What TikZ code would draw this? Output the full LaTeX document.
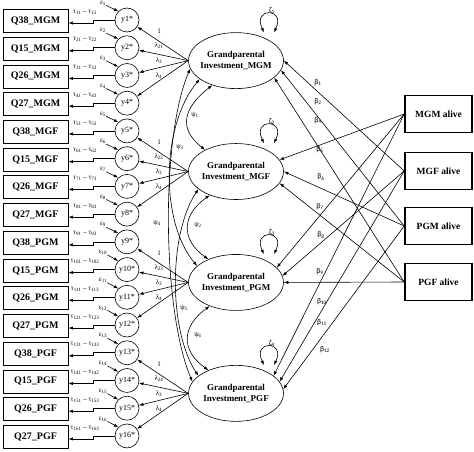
\documentclass[tikz,border=0pt]{standalone}
\usepackage{fontspec}
\setmainfont{Liberation Serif}
\newfontfamily\calfont{Carlito}
\usetikzlibrary{arrows.meta}
\usetikzlibrary{shapes.geometric}

\tikzset{
	obsbox/.style={draw, line width=0.8pt, minimum width=65pt, minimum height=23pt, inner sep=0pt, font=\fontsize{10}{12}\selectfont\bfseries},
	alivebox/.style={draw, line width=1.6pt, minimum width=67pt, minimum height=37pt, inner sep=0pt, font=\fontsize{9.5}{11}\selectfont\bfseries},
	ystar/.style={draw, circle, line width=0.6pt, minimum size=24pt, inner sep=0pt, font=\fontsize{8}{9}\selectfont},
	latent/.style={draw, ellipse, line width=0.6pt, minimum width=95pt, minimum height=56pt, inner xsep=-4pt, inner ysep=0pt, align=center, font=\fontsize{9}{11}\selectfont\bfseries},
	lbl/.style={font=\fontsize{7}{8}\selectfont, inner sep=0pt},
	blbl/.style={font=\calfont\fontsize{7.5}{8}\selectfont, inner sep=0pt},
	arr/.style={-{Latex[length=4.5pt,width=3.2pt]}, line width=0.6pt},
	darr/.style={{Latex[length=4.5pt,width=3.2pt]}-{Latex[length=4.5pt,width=3.2pt]}, line width=0.6pt}
}

\begin{document}
\begin{tikzpicture}[x=1pt, y=-1pt]
	\useasboundingbox (0,0) rectangle (474,452);
	
	% latent factors with their indicators
	\foreach \g [count=\b from 0] in {MGM,MGF,PGM,PGF}{
		\pgfmathsetmacro\ly{60.6+110.92*\b}
		\pgfmathtruncatemacro\zn{\b+1}
		\node[latent] (lat\g) at (236,\ly) {Grandparental\\Investment\_\g};
		\draw[darr] ([xshift=28pt]lat\g.north) .. controls +(-12,-25) and +(12,-25) .. ([xshift=38pt]lat\g.north);
		\node[blbl] (z\g) at (272,\ly-50) {ζ\textsubscript{\zn}};
		\foreach \q/\lt/\lo [count=\k from 0] in {38/1/-29, 15/{λ\textsubscript{2\zn}}/-15, 26/{λ\textsubscript{3}}/0, 27/{λ\textsubscript{4}}/15}{
			\pgfmathtruncatemacro\i{4*\b+\k+1}
			\pgfmathtruncatemacro\tl{\k==1 ? 2 : 3}
			\pgfmathsetmacro\qy{21+27.73*(\i-1)}
			\pgfmathsetmacro\lay{\ly+\lo}
			\node[obsbox] (q\i) at (35.5,\qy) {Q\q\_\g};
			\node[ystar] (y\i) at (127,\qy-1) {y\i*};
			\node[lbl] (t\i) at (85,\qy-9) {τ\textsubscript{\i1} – τ\textsubscript{\i\tl}};
			\node[lbl] (e\i) at (103,\qy-18) {ε\textsubscript{\i}};
			\draw[arr] (e\i.south east) -- (y\i.135);
			\draw[arr] (y\i.west) -- ++(-21,0) |- ([yshift=-2pt]q\i.east);
			\draw[arr] (lat\g.west) -- (y\i);
			\node[lbl] (l\i) at (159,\lay) {\lt};
		}
	}
	
	% covariances
	\draw[darr] (latMGM.226) .. controls +(-28,22) and +(-28,-22) .. (latMGF.145);
	\draw[darr] (latMGF.222) .. controls +(-28,20) and +(-28,-20) .. (latPGM.140);
	\draw[darr] (latPGM.222) .. controls +(-28,20) and +(-28,-20) .. (latPGF.140);
	\draw[darr] (latMGM.207) .. controls +(-38,45) and +(-38,-45) .. (latPGM.157);
	\draw[darr] (latMGF.205) .. controls +(-30,45) and +(-30,-45) .. (latPGF.155);
	\draw[darr] (latMGM.190) .. controls +(-30,70) and +(-30,-70) .. (latPGF.165);
	\node[lbl] (p1) at (195,115) {ψ\textsubscript{1}};
	\node[lbl] (p2) at (198,225) {ψ\textsubscript{2}};
	\node[lbl] (p3) at (180,147) {ψ\textsubscript{3}};
	\node[lbl] (p4) at (157,223) {ψ\textsubscript{4}};
	\node[lbl] (p5) at (184,308) {ψ\textsubscript{5}};
	\node[lbl] (p6) at (198,335) {ψ\textsubscript{6}};
	
	% alive boxes and regressions
	\foreach \g/\ay in {MGM/114,MGF/171,PGM/226,PGF/282}
		\node[alivebox] (a\g) at (438.5,\ay) {\g{} alive};
	\foreach \s/\t/\an in {MGF/MGM/0, PGM/MGM/-12, PGF/MGM/-24, MGM/MGF/15, PGM/MGF/0, PGF/MGF/-15, MGM/PGM/20, MGF/PGM/8, PGF/PGM/0, MGM/PGF/25, MGF/PGF/15, PGM/PGF/5}
		\draw[arr] (a\s.west) -- (lat\t.\an);
	\foreach \n/\bx/\by in {1/318/83, 2/318/102, 4/318/121, 5/320/150, 6/321/177, 7/320/207, 8/321/235, 9/320/272, 10/322/302, 11/322/323, 12/325/350}
		\node[blbl] (b\n) at (\bx,\by) {β\textsubscript{\n}};
\end{tikzpicture}
\end{document}
